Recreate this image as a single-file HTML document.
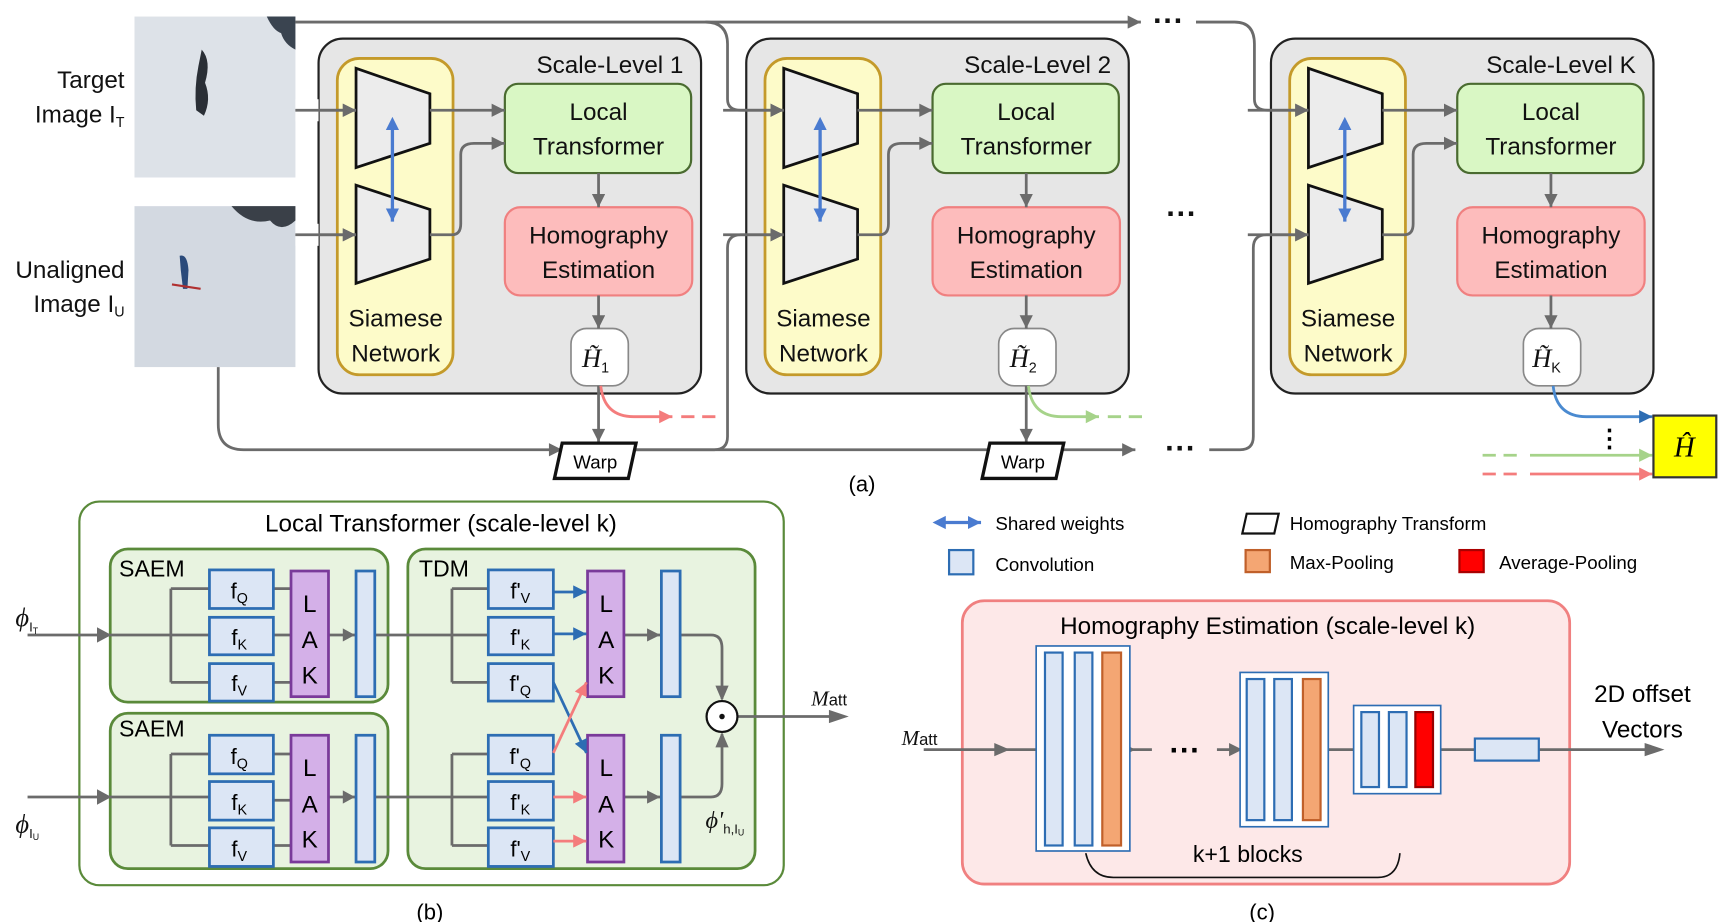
<!DOCTYPE html>
<html><head><meta charset="utf-8"><style>
html,body{margin:0;padding:0;background:#fff}
svg{display:block;font-family:"Liberation Sans",sans-serif}
</style></head><body>
<svg width="1724" height="922" viewBox="0 0 1564 836.4" xmlns="http://www.w3.org/2000/svg">
<defs>
<marker id="a" viewBox="0 0 10 10" refX="10" refY="5" markerWidth="14" markerHeight="12" orient="auto" markerUnits="userSpaceOnUse"><path d="M0,0L10,5L0,10z" fill="#6b6b6b"/></marker>
<marker id="ar" viewBox="0 0 10 10" refX="10" refY="5" markerWidth="14" markerHeight="12" orient="auto" markerUnits="userSpaceOnUse"><path d="M0,0L10,5L0,10z" fill="#f47c7c"/></marker>
<marker id="agr" viewBox="0 0 10 10" refX="10" refY="5" markerWidth="14" markerHeight="12" orient="auto" markerUnits="userSpaceOnUse"><path d="M0,0L10,5L0,10z" fill="#a6d38a"/></marker>
<marker id="ab" viewBox="0 0 10 10" refX="10" refY="5" markerWidth="14" markerHeight="12" orient="auto" markerUnits="userSpaceOnUse"><path d="M0,0L10,5L0,10z" fill="#2d6db3"/></marker>
<marker id="abb" viewBox="0 0 10 10" refX="10" refY="5" markerWidth="12" markerHeight="14" orient="auto" markerUnits="userSpaceOnUse"><path d="M0,0L10,5L0,10z" fill="#4a7bd0"/></marker>
<marker id="abs" viewBox="0 0 10 10" refX="5" refY="5" markerWidth="12" markerHeight="14" orient="auto-start-reverse" markerUnits="userSpaceOnUse"><path d="M0,0L10,5L0,10z" fill="#4a7bd0"/></marker>
<g id="lvl">
<rect x="289" y="35" width="347" height="322" rx="22" fill="#e6e6e6" stroke="#222" stroke-width="2"/>
<rect x="306" y="53" width="105" height="287" rx="20" fill="#fdfbc9" stroke="#c49a2a" stroke-width="2.5"/>
<path d="M323,62 L390,85 L390,130 L323,152z" fill="#ececec" stroke="#111" stroke-width="2.5"/>
<path d="M323,168 L390,190 L390,235 L323,257z" fill="#ececec" stroke="#111" stroke-width="2.5"/>
<line x1="356" y1="112" x2="356" y2="201" stroke="#4a7bd0" stroke-width="3" marker-start="url(#abs)" marker-end="url(#abb)"/>
<rect x="458" y="76" width="169" height="81" rx="12" fill="#d9f7c4" stroke="#4a6b30" stroke-width="2"/>
<rect x="458" y="188" width="170" height="80" rx="14" fill="#fdbcbc" stroke="#f08080" stroke-width="2"/>
<rect x="518" y="298" width="52" height="52" rx="14" fill="#fff" stroke="#888" stroke-width="1.5"/>
<text x="359" y="296" font-size="22" text-anchor="middle" fill="#111">Siamese</text>
<text x="359" y="328" font-size="22" text-anchor="middle" fill="#111">Network</text>
<text x="543" y="109" font-size="22" text-anchor="middle" fill="#111">Local</text>
<text x="543" y="140" font-size="22" text-anchor="middle" fill="#111">Transformer</text>
<text x="543" y="221" font-size="22" text-anchor="middle" fill="#111">Homography</text>
<text x="543" y="252" font-size="22" text-anchor="middle" fill="#111">Estimation</text>
<line x1="268" y1="100" x2="323" y2="100" stroke="#6b6b6b" stroke-width="2.5" marker-end="url(#a)"/>
<line x1="390" y1="100" x2="458" y2="100" stroke="#6b6b6b" stroke-width="2.5" marker-end="url(#a)"/>
<path d="M390,213 L410,213 Q418,213 418,203 L418,140 Q418,130 430,130 L458,130" fill="none" stroke="#6b6b6b" stroke-width="2.5" marker-end="url(#a)"/>
<line x1="268" y1="213" x2="323" y2="213" stroke="#6b6b6b" stroke-width="2.5" marker-end="url(#a)"/>
<line x1="543" y1="157" x2="543" y2="188" stroke="#6b6b6b" stroke-width="2.5" marker-end="url(#a)"/>
<line x1="543" y1="268" x2="543" y2="298" stroke="#6b6b6b" stroke-width="2.5" marker-end="url(#a)"/>
</g>
</defs>

<!-- photos -->
<rect x="122" y="15" width="146" height="146" fill="#dde2e8"/>
<path d="M242,15 L268,15 L268,45 Q258,40 255,30 Q248,28 242,15z" fill="#3a4450"/>
<path d="M183,45 Q192,55 186,75 Q192,90 185,105 L178,100 Q176,80 180,60z" fill="#2a2f36"/>
<rect x="122" y="187" width="146" height="146" fill="#d3d9e1"/>
<path d="M210,187 L268,187 L268,200 Q255,212 245,200 Q225,205 210,187z" fill="#3a4048"/>
<path d="M163,232 Q170,230 171,245 L170,262 L166,262 L164,245z" fill="#2a4a7a"/>
<line x1="156" y1="258" x2="182" y2="262" stroke="#b03030" stroke-width="2"/>

<text x="113" y="80" font-size="22" text-anchor="end" fill="#111">Target</text>
<text x="113" y="111" font-size="22" text-anchor="end" fill="#111">Image I<tspan font-size="13" dy="4">T</tspan></text>
<text x="113" y="252" font-size="22" text-anchor="end" fill="#111">Unaligned</text>
<text x="113" y="283" font-size="22" text-anchor="end" fill="#111">Image I<tspan font-size="13" dy="4">U</tspan></text>

<!-- levels -->
<use href="#lvl"/>
<use href="#lvl" transform="translate(388,0)"/>
<use href="#lvl" transform="translate(864,0)"/>
<rect x="268" y="90" width="21" height="20" fill="#fff"/>
<rect x="268" y="203" width="21" height="20" fill="#fff"/>
<line x1="268" y1="100" x2="323" y2="100" stroke="#6b6b6b" stroke-width="2.5" marker-end="url(#a)"/>
<line x1="268" y1="213" x2="323" y2="213" stroke="#6b6b6b" stroke-width="2.5" marker-end="url(#a)"/>
<text x="620" y="66" font-size="22" text-anchor="end" fill="#111">Scale-Level 1</text>
<text x="1008" y="66" font-size="22" text-anchor="end" fill="#111">Scale-Level 2</text>
<text x="1484" y="66" font-size="22" text-anchor="end" fill="#111">Scale-Level K</text>
<g font-family="Liberation Serif,serif" font-style="italic" font-size="24" fill="#111">
<text x="528" y="333">H̃<tspan font-size="13" font-style="normal" font-family="Liberation Sans" dy="5">1</tspan></text>
<text x="916" y="333">H̃<tspan font-size="13" font-style="normal" font-family="Liberation Sans" dy="5">2</tspan></text>
<text x="1390" y="333">H̃<tspan font-size="13" font-style="normal" font-family="Liberation Sans" dy="5">K</tspan></text>
</g>

<!-- connectors -->
<g fill="none" stroke="#6b6b6b" stroke-width="2.5">
<path d="M268,20 L1035,20" marker-end="url(#a)"/>
<path d="M640,20 Q660,20 660,40 L660,90 Q660,100 672,100 L711,100" marker-end="url(#a)"/>
<path d="M1085,20 L1120,20 Q1138,20 1138,40 L1138,90 Q1138,100 1150,100 L1187,100" marker-end="url(#a)"/>
<path d="M198,333 L198,385 Q198,408 221,408 L510,408" marker-end="url(#a)"/>
<path d="M575,408 L1030,408" marker-end="url(#a)"/>
<path d="M575,408 L648,408 Q660,408 660,396 L660,225 Q660,213 672,213 L711,213" marker-end="url(#a)"/>
<path d="M1097,408 L1125,408 Q1137,408 1137,396 L1137,225 Q1137,213 1149,213 L1187,213" marker-end="url(#a)"/>
<path d="M543,350 L543,401" marker-end="url(#a)"/>
<path d="M931,350 L931,401" marker-end="url(#a)"/>
</g>
<path d="M510,402 L577,402 L570,434 L503,434z" fill="#fff" stroke="#111" stroke-width="3"/>
<text x="540" y="425" font-size="17" text-anchor="middle">Warp</text>
<path d="M898,402 L965,402 L958,434 L891,434z" fill="#fff" stroke="#111" stroke-width="3"/>
<text x="928" y="425" font-size="17" text-anchor="middle">Warp</text>

<path d="M545,350 Q548,378 575,378 L610,378" fill="none" stroke="#f47c7c" stroke-width="2.5" marker-end="url(#ar)"/>
<line x1="618" y1="378" x2="652" y2="378" stroke="#f47c7c" stroke-width="2.5" stroke-dasharray="12,7"/>
<path d="M933,350 Q936,378 963,378 L997,378" fill="none" stroke="#a6d38a" stroke-width="2.5" marker-end="url(#agr)"/>
<line x1="1005" y1="378" x2="1040" y2="378" stroke="#a6d38a" stroke-width="2.5" stroke-dasharray="12,7"/>
<path d="M1409,350 Q1412,378 1439,378 L1499,378" fill="none" stroke="#4a8ad0" stroke-width="2.5" marker-end="url(#ab)"/>
<line x1="1345" y1="413" x2="1380" y2="413" stroke="#a6d38a" stroke-width="2.5" stroke-dasharray="12,7"/>
<line x1="1388" y1="413" x2="1499" y2="413" stroke="#a6d38a" stroke-width="2.5" marker-end="url(#agr)"/>
<line x1="1345" y1="430" x2="1380" y2="430" stroke="#f47c7c" stroke-width="2.5" stroke-dasharray="12,7"/>
<line x1="1388" y1="430" x2="1499" y2="430" stroke="#f47c7c" stroke-width="2.5" marker-end="url(#ar)"/>
<rect x="1500" y="377" width="57" height="56" fill="#ffff00" stroke="#333" stroke-width="2"/>
<text x="1528" y="414" font-size="26" text-anchor="middle" font-family="Liberation Serif,serif" font-style="italic">Ĥ</text>
<text x="1460" y="405" font-size="22" text-anchor="middle" font-weight="bold">⋮</text>
<g font-size="28" font-weight="bold" text-anchor="middle" fill="#111">
<text x="1060" y="28">···</text><text x="1072" y="203">···</text><text x="1071" y="416">···</text></g>
<text x="782" y="446" font-size="20" text-anchor="middle">(a)</text>

<!-- (b) -->
<rect x="72" y="455" width="639" height="348" rx="18" fill="#fff" stroke="#5a8a3a" stroke-width="2"/>
<text x="400" y="482" font-size="22" text-anchor="middle">Local Transformer (scale-level k)</text>
<rect x="100" y="498" width="252" height="139" rx="16" fill="#e8f3e0" stroke="#5a8a3a" stroke-width="2.5"/>
<rect x="100" y="647" width="252" height="141" rx="16" fill="#e8f3e0" stroke="#5a8a3a" stroke-width="2.5"/>
<rect x="370" y="498" width="315" height="290" rx="16" fill="#e8f3e0" stroke="#5a8a3a" stroke-width="2.5"/>
<text x="108" y="523" font-size="21">SAEM</text>
<text x="108" y="668" font-size="21">SAEM</text>
<text x="380" y="523" font-size="21">TDM</text>
<g fill="none" stroke="#6b6b6b" stroke-width="2.5">
<path d="M25,576 L100,576"/><path d="M25,723 L100,723"/>
<path d="M100,576 L190,576 M155,534 L190,534 M155,619 L190,619 M155,534 L155,619"/>
<path d="M100,723 L190,723 M155,684 L190,684 M155,767 L190,767 M155,684 L155,767"/>
<path d="M248,534 L264,534 M248,576 L264,576 M248,619 L264,619"/>
<path d="M248,684 L264,684 M248,726 L264,726 M248,767 L264,767"/>
<path d="M298,576 L323,576 M340,576 L443,576 M410,534 L443,534 M410,619 L443,619 M410,534 L410,619"/>
<path d="M298,723 L323,723 M340,723 L443,723 M410,684 L443,684 M410,767 L443,767 M410,684 L410,767"/>
<path d="M566,576 L600,576 M566,723 L600,723"/>
<path d="M617,576 L645,576 Q655,576 655,588 L655,634"/>
<path d="M617,723 L645,723 Q655,723 655,711 L655,666"/>
<path d="M669,650 L760,650"/>
</g>
<g fill="#6b6b6b">
<path d="M88,569 L101,576 L88,583z"/><path d="M88,716 L101,723 L88,730z"/>
<path d="M311,570 L322,576 L311,582z"/><path d="M311,717 L322,723 L311,729z"/>
<path d="M587,570 L599,576 L587,582z"/><path d="M587,717 L599,723 L587,729z"/>
<path d="M649,622 L655,636 L661,622z"/><path d="M649,678 L655,664 L661,678z"/>
<path d="M752,644 L770,650 L752,656z"/>
</g>
<g fill="#dce6f5" stroke="#2d6db3" stroke-width="2.5">
<rect x="190" y="517" width="58" height="35"/><rect x="190" y="560" width="58" height="34"/><rect x="190" y="602" width="58" height="34"/>
<rect x="190" y="667" width="58" height="35"/><rect x="190" y="709" width="58" height="35"/><rect x="190" y="751" width="58" height="35"/>
<rect x="443" y="517" width="59" height="35"/><rect x="443" y="560" width="59" height="34"/><rect x="443" y="602" width="59" height="34"/>
<rect x="443" y="667" width="59" height="35"/><rect x="443" y="709" width="59" height="35"/><rect x="443" y="751" width="59" height="35"/>
<rect x="323" y="518" width="17" height="114"/><rect x="323" y="667" width="17" height="115"/>
<rect x="600" y="518" width="17" height="114"/><rect x="600" y="667" width="17" height="115"/>
</g>
<g fill="#d4b0e8" stroke="#7a3a9a" stroke-width="2.5">
<rect x="264" y="518" width="34" height="114"/><rect x="264" y="667" width="34" height="115"/>
<rect x="533" y="518" width="33" height="114"/><rect x="533" y="667" width="33" height="115"/>
</g>
<g font-size="22" text-anchor="middle">
<text x="281" y="555">L</text><text x="281" y="588">A</text><text x="281" y="620">K</text>
<text x="281" y="704">L</text><text x="281" y="737">A</text><text x="281" y="769">K</text>
<text x="550" y="555">L</text><text x="550" y="588">A</text><text x="550" y="620">K</text>
<text x="550" y="704">L</text><text x="550" y="737">A</text><text x="550" y="769">K</text>
</g>
<g font-size="20" text-anchor="middle">
<text x="217" y="543">f<tspan font-size="13" dy="4">Q</tspan></text><text x="217" y="585">f<tspan font-size="13" dy="4">K</tspan></text><text x="217" y="627">f<tspan font-size="13" dy="4">V</tspan></text>
<text x="217" y="693">f<tspan font-size="13" dy="4">Q</tspan></text><text x="217" y="735">f<tspan font-size="13" dy="4">K</tspan></text><text x="217" y="777">f<tspan font-size="13" dy="4">V</tspan></text>
<text x="472" y="543">f'<tspan font-size="13" dy="4">V</tspan></text><text x="472" y="585">f'<tspan font-size="13" dy="4">K</tspan></text><text x="472" y="627">f'<tspan font-size="13" dy="4">Q</tspan></text>
<text x="472" y="693">f'<tspan font-size="13" dy="4">Q</tspan></text><text x="472" y="735">f'<tspan font-size="13" dy="4">K</tspan></text><text x="472" y="777">f'<tspan font-size="13" dy="4">V</tspan></text>
</g>
<g stroke-width="2.5">
<line x1="502" y1="537" x2="532" y2="537" stroke="#2d6db3" marker-end="url(#ab)"/>
<line x1="502" y1="575" x2="532" y2="575" stroke="#2d6db3" marker-end="url(#ab)"/>
<line x1="502" y1="619" x2="532" y2="683" stroke="#2d6db3" marker-end="url(#ab)"/>
<line x1="502" y1="683" x2="532" y2="619" stroke="#f47c7c" marker-end="url(#ar)"/>
<line x1="502" y1="723" x2="532" y2="723" stroke="#f47c7c" marker-end="url(#ar)"/>
<line x1="502" y1="763" x2="532" y2="763" stroke="#f47c7c" marker-end="url(#ar)"/>
</g>
<circle cx="655" cy="650" r="14" fill="#fff" stroke="#111" stroke-width="2"/>
<circle cx="655" cy="650" r="2.5" fill="#111"/>
<g font-family="Liberation Serif,serif" font-style="italic" fill="#111">
<text x="14" y="568" font-size="24">ϕ<tspan font-size="12" font-style="normal" font-family="Liberation Sans" dy="5">I</tspan><tspan font-size="8" font-style="normal" font-family="Liberation Sans" dy="2">T</tspan></text>
<text x="14" y="755" font-size="24">ϕ<tspan font-size="12" font-style="normal" font-family="Liberation Sans" dy="5">I</tspan><tspan font-size="8" font-style="normal" font-family="Liberation Sans" dy="2">U</tspan></text>
<text x="640" y="751" font-size="22">ϕ'<tspan font-size="12" font-style="normal" font-family="Liberation Sans" dy="5">h,I</tspan><tspan font-size="8" font-style="normal" font-family="Liberation Sans" dy="2">U</tspan></text>
<text x="736" y="640" font-size="19">M<tspan font-style="normal" font-family="Liberation Sans" font-size="15">att</tspan></text>
<text x="818" y="676" font-size="19">M<tspan font-style="normal" font-family="Liberation Sans" font-size="15">att</tspan></text>
</g>
<text x="390" y="834" font-size="20" text-anchor="middle">(b)</text>

<!-- legend -->
<line x1="852" y1="474" x2="890" y2="474" stroke="#4a7bd0" stroke-width="3" marker-start="url(#abs)" marker-end="url(#abb)"/>
<text x="903" y="481" font-size="17">Shared weights</text>
<path d="M1131,466 L1160,466 L1156,484 L1127,484z" fill="#fff" stroke="#111" stroke-width="2"/>
<text x="1170" y="481" font-size="17">Homography Transform</text>
<rect x="861" y="499" width="22" height="22" fill="#dce6f5" stroke="#2d6db3" stroke-width="2"/>
<text x="903" y="518" font-size="17">Convolution</text>
<rect x="1130" y="499" width="22" height="20" fill="#f4a673" stroke="#c0602a" stroke-width="2"/>
<text x="1170" y="516" font-size="17">Max-Pooling</text>
<rect x="1324" y="499" width="22" height="20" fill="#ff0000" stroke="#a00" stroke-width="2"/>
<text x="1360" y="516" font-size="17">Average-Pooling</text>

<!-- (c) -->
<rect x="873" y="545" width="551" height="257" rx="20" fill="#fde8e8" stroke="#f08080" stroke-width="2.5"/>
<text x="1150" y="575" font-size="22" text-anchor="middle">Homography Estimation (scale-level k)</text>
<g fill="none" stroke="#6b6b6b" stroke-width="2.5">
<path d="M838,680 L940,680 M1025,680 L1045,680 M1104,680 L1125,680 M1205,680 L1228,680 M1307,680 L1338,680 M1396,680 L1495,680"/>
</g>
<g fill="#6b6b6b">
<path d="M902,674 L916,680 L902,686z"/><path d="M1018,674 L1030,680 L1018,686z"/><path d="M1115,674 L1127,680 L1115,686z"/><path d="M1492,674 L1510,680 L1492,686z"/>
</g>
<text x="1075" y="690" font-size="28" font-weight="bold" text-anchor="middle">···</text>
<g fill="#fff" stroke="#2d6db3" stroke-width="1.5">
<rect x="940" y="586" width="85" height="186"/><rect x="1125" y="610" width="80" height="140"/><rect x="1228" y="640" width="79" height="80"/>
</g>
<g fill="#dce6f5" stroke="#2d6db3" stroke-width="2">
<rect x="948" y="592" width="16" height="175"/><rect x="975" y="592" width="16" height="175"/>
<rect x="1131" y="616" width="16" height="128"/><rect x="1156" y="616" width="16" height="128"/>
<rect x="1235" y="646" width="16" height="68"/><rect x="1260" y="646" width="16" height="68"/>
<rect x="1338" y="670" width="58" height="20"/>
</g>
<rect x="1000" y="592" width="17" height="175" fill="#f4a673" stroke="#c0602a" stroke-width="2"/>
<rect x="1182" y="616" width="16" height="128" fill="#f4a673" stroke="#c0602a" stroke-width="2"/>
<rect x="1284" y="646" width="16" height="68" fill="#ff0000" stroke="#900" stroke-width="2"/>
<path d="M985,774 Q990,796 1010,796 L1250,796 Q1268,796 1270,774" fill="none" stroke="#111" stroke-width="1.5"/>
<text x="1132" y="782" font-size="21" text-anchor="middle">k+1 blocks</text>
<text x="1490" y="637" font-size="22" text-anchor="middle">2D offset</text>
<text x="1490" y="669" font-size="22" text-anchor="middle">Vectors</text>
<text x="1145" y="834" font-size="20" text-anchor="middle">(c)</text>
</svg>
</body></html>
